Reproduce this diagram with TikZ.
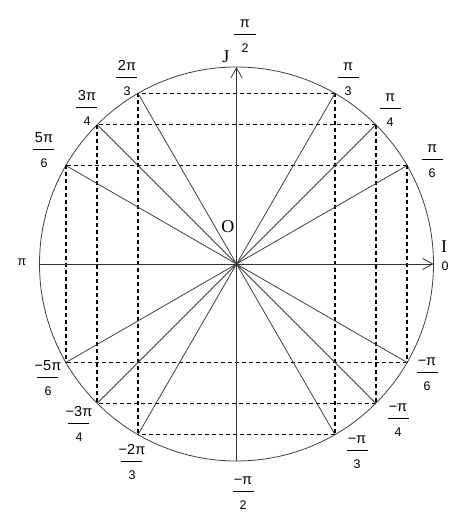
\documentclass[tikz,border=0pt]{standalone}
\usepackage{fontspec}
\setmainfont{Liberation Sans}
\newfontfamily\serifletter{Liberation Serif}
\usetikzlibrary{arrows.meta}

% fraction label: numerator, fixed bar, denominator
\newcommand{\fr}[2]{\begin{tabular}{@{}c@{}}#1\\[-9pt]\rule{21pt}{0.7pt}\\[2pt]{\fontsize{12.5}{15}\selectfont#2}\end{tabular}}

\begin{document}
\begin{tikzpicture}[x=1pt, y=1pt,
  font=\fontsize{14.5}{16}\selectfont,
  axis/.style={line width=0.8pt, black!80, -{Straight Barb[length=10pt, width=11pt]}},
  ray/.style={line width=0.8pt, black!75},
  dashline/.style={line width=1.4pt, dash pattern=on 4pt off 3pt},
  letter/.style={font=\serifletter\fontsize{18}{20}\selectfont}]
  \useasboundingbox (-236.5,-255) rectangle (237.5,264); % picture margins

  \coordinate (O) at (0,0);
  \foreach \a in {0,30,45,60,90,120,135,150,180,210,225,240,270,300,315,330}
    \coordinate (p\a) at (\a:197);

  % unit circle
  \draw[line width=0.8pt, black!75] (O) circle (197);

  % dashed projections
  \foreach \a/\b in {30/150, 45/135, 60/120, 330/210, 315/225, 300/240}
    \draw[dashline] (p\a) -- (p\b); % horizontal
  \foreach \a/\b in {30/330, 45/315, 60/300, 150/210, 135/225, 120/240}
    \draw[dashline] (p\a) -- (p\b); % vertical

  % rays from the origin
  \foreach \a in {30,45,60,120,135,150,210,225,240,300,315,330}
    \draw[ray] (O) -- (p\a);

  % axes
  \draw[axis] (p180) -- (p0);
  \draw[axis] (p270) -- (p90);

  % axis letters
  \node[letter] (lO) at (-8.5,37) {O};
  \node[letter] (lJ) at (-10.5,207) {J};
  \node[letter] (lI) at (207.5,17) {I};
  \node (l0) at (208.5,-2) {\fontsize{12.5}{15}\selectfont 0};
  \node (l180) at (-214.5,2) {\fontsize{12.5}{15}\selectfont π};

  % angle labels, upper half
  \node (l90)  at (8.5,227)     {\fr{π}{2}};
  \node (l60)  at (111.5,184)   {\fr{π}{3}};
  \node (l45)  at (153.5,153)   {\fr{π}{4}};
  \node (l30)  at (195.5,102)   {\fr{π}{6}};
  \node (l120) at (-109.5,184)  {\fr{2π}{3}};
  \node (l135) at (-149.5,154)  {\fr{3π}{4}};
  \node (l150) at (-192.5,112)  {\fr{5π}{6}};

  % angle labels, lower half
  \node (l210) at (-188.5,-116) {\fr{−5π}{6}};
  \node (l225) at (-157.5,-162) {\fr{−3π}{4}};
  \node (l240) at (-104.5,-200) {\fr{−2π}{3}};
  \node (l270) at (6.5,-230)    {\fr{−π}{2}};
  \node (l300) at (120.5,-189)  {\fr{−π}{3}};
  \node (l315) at (161.5,-157)  {\fr{−π}{4}};
  \node (l330) at (190.5,-111)  {\fr{−π}{6}};
\end{tikzpicture}
\end{document}
